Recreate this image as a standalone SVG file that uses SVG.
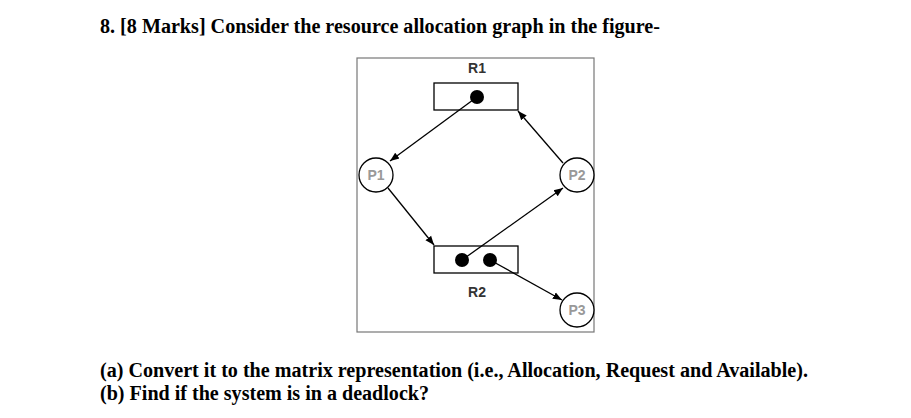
<svg xmlns="http://www.w3.org/2000/svg" width="911" height="418" viewBox="0 0 911 418">
<style>
.t{font-family:"Liberation Serif",serif;font-weight:bold;font-size:20px;fill:#000}
.lbl{font-family:"Liberation Sans",sans-serif;font-weight:bold;font-size:14px;fill:#333;text-anchor:middle}
.pl{font-family:"Liberation Sans",sans-serif;font-weight:bold;font-size:14px;fill:#999;text-anchor:middle}
.n{fill:#fff;stroke:#000;stroke-width:1.3}
.e{stroke:#000;stroke-width:1.3;fill:none;marker-end:url(#a)}
</style>
<defs><marker id="a" viewBox="0 0 10 10" refX="10" refY="5" markerWidth="7" markerHeight="7" orient="auto"><path d="M0,1 L10,5 L0,9 z" fill="#000"/></marker></defs>
<rect width="911" height="418" fill="#fff"/>
<text class="t" x="100" y="33" textLength="560" lengthAdjust="spacingAndGlyphs">8. [8 Marks] Consider the resource allocation graph in the figure-</text>
<rect x="357" y="58" width="237" height="274" fill="#fff" stroke="#777" stroke-width="1.2"/>
<g id="R1"><rect class="n" x="434" y="83" width="84" height="27"/><circle cx="477" cy="97" r="7" fill="#000"/><text class="lbl" x="477" y="73">R1</text></g>
<g id="R2"><rect class="n" x="434" y="246" width="84" height="27"/><circle cx="462" cy="260" r="7" fill="#000"/><circle cx="490" cy="260" r="7" fill="#000"/><text class="lbl" x="477" y="297">R2</text></g>
<g id="P1"><circle class="n" cx="376" cy="175" r="17"/><text class="pl" x="376" y="180">P1</text></g>
<g id="P2"><circle class="n" cx="577" cy="175" r="17"/><text class="pl" x="577" y="180">P2</text></g>
<g id="P3"><circle class="n" cx="577" cy="310" r="17"/><text class="pl" x="577" y="315">P3</text></g>
<g id="edges">
<line class="e" x1="477" y1="97" x2="390" y2="161"/>
<line class="e" x1="388" y1="188" x2="434" y2="245"/>
<line class="e" x1="563" y1="163" x2="518" y2="111"/>
<line class="e" x1="462" y1="260" x2="563" y2="188"/>
<line class="e" x1="490" y1="260" x2="562" y2="300"/>
</g>
<text class="t" x="100" y="377" textLength="708" lengthAdjust="spacingAndGlyphs">(a) Convert it to the matrix representation (i.e., Allocation, Request and Available).</text>
<text class="t" x="100" y="400" textLength="329" lengthAdjust="spacingAndGlyphs">(b) Find if the system is in a deadlock?</text>
</svg>
